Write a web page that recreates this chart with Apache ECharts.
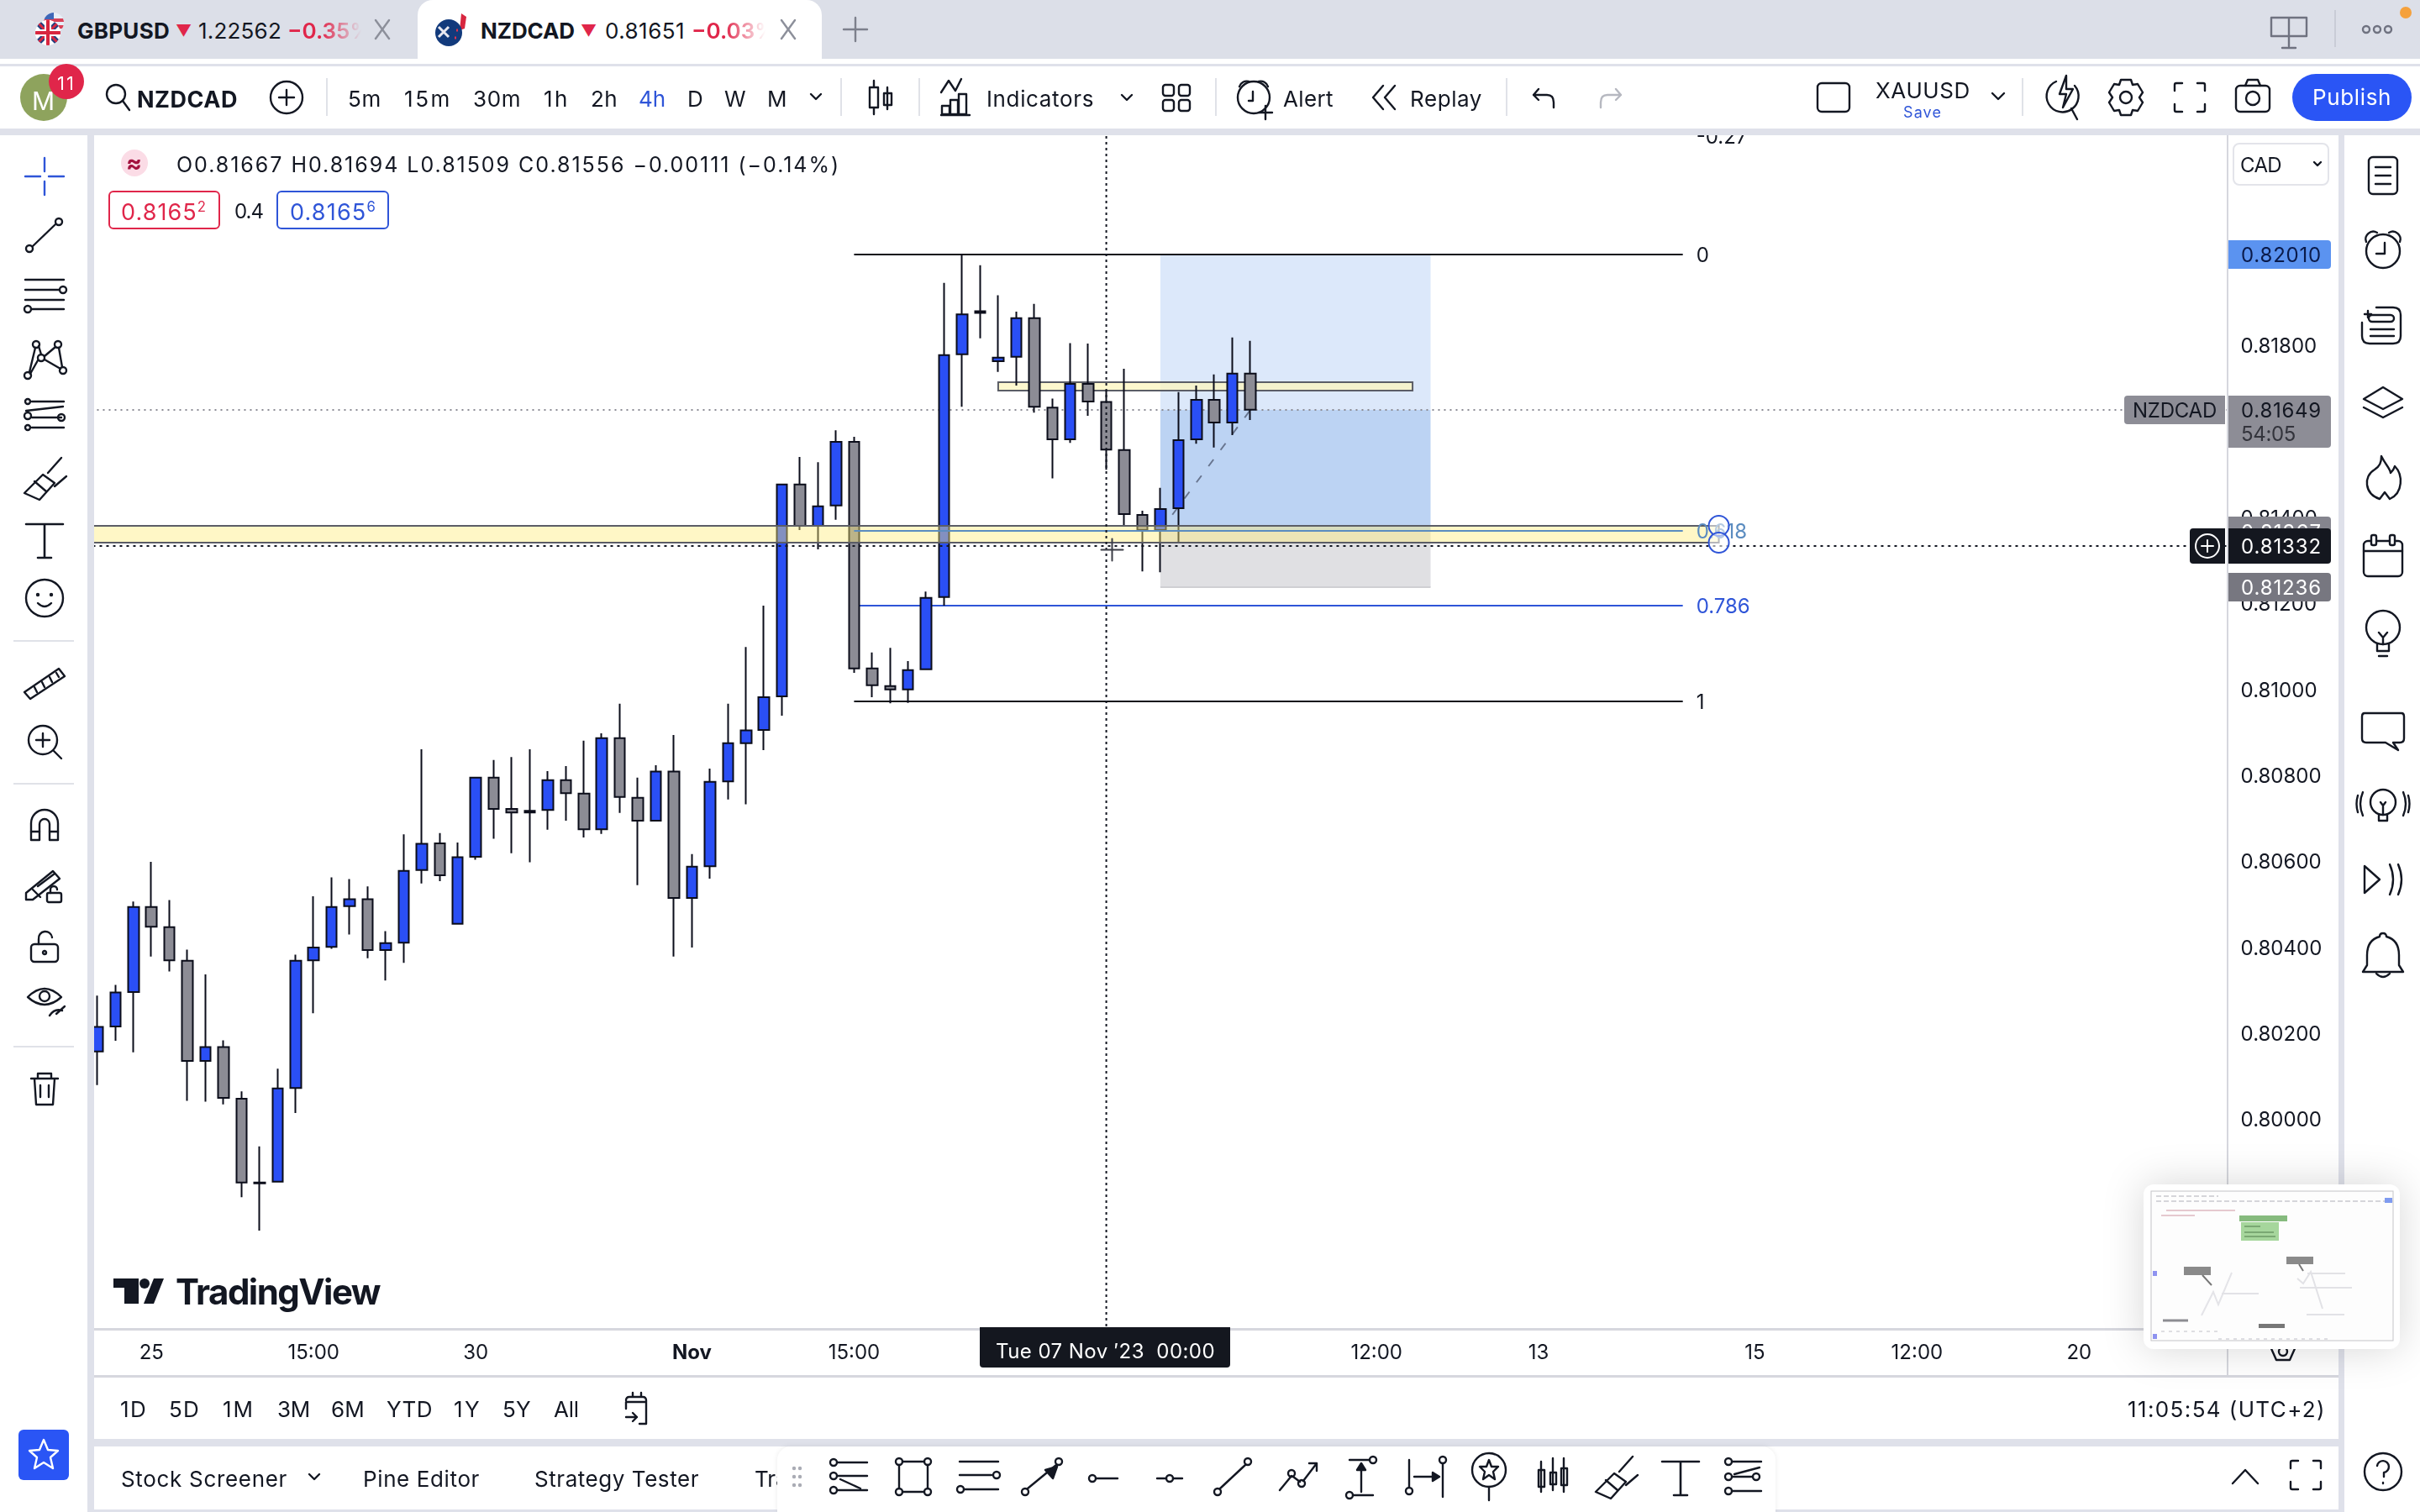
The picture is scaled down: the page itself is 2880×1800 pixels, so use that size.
<!DOCTYPE html>
<html>
<head>
<meta charset="utf-8">
<title>NZDCAD</title>
<script src="https://cdn.jsdelivr.net/npm/echarts@6/dist/echarts.min.js"></script>
<style>
  html, body { margin: 0; padding: 0; background: #fff; overflow: hidden; }
  #stage { position: relative; width: 2880px; height: 1800px; font-family: Inter, "Noto Sans", sans-serif; color: #131722; }
  #chart { position: absolute; left: 0; top: 0; width: 2880px; height: 1800px; }
  #ui { position: absolute; left: 0; top: 0; width: 2880px; height: 1800px; z-index: 2; }
  #ui div.box, #ui span { position: absolute; }
  #ui span { white-space: nowrap; line-height: 1; transform: translateY(-50%); }
  #ui sup { font-size: 62%; line-height: 0; vertical-align: 0.55em; }
  #icons { position: absolute; left: 0; top: 0; z-index: 3; }
</style>
</head>
<body>
<div id="stage">
  <div id="chart"></div>
  <div id="ui"></div>
  <svg id="icons" width="2880" height="1800" viewBox="0 0 2880 1800"></svg>
</div>
<script>
// 4h bars
var opens = [
  0.80156, 0.80214, 0.80294, 0.80492, 0.80445, 0.80367, 0.80134, 0.80166, 0.80046, 0.79851,
  0.79853, 0.80071, 0.80368, 0.80399, 0.80494, 0.80510, 0.80392, 0.80409, 0.80578, 0.80640,
  0.80453, 0.80609, 0.80793, 0.80720, 0.80716, 0.80718, 0.80787, 0.80756, 0.80673, 0.80885,
  0.80746, 0.80693, 0.80807, 0.80513, 0.80587, 0.80784, 0.80873, 0.80904, 0.80982, 0.81475,
  0.81379, 0.81426, 0.81574, 0.81047, 0.81006, 0.80998, 0.81045, 0.81213, 0.81778, 0.81878,
  0.81762, 0.81772, 0.81862, 0.81654, 0.81580, 0.81709, 0.81667, 0.81555, 0.81404, 0.81369,
  0.81420, 0.81580, 0.81672, 0.81619, 0.81733
];
var closes = [
  0.80213, 0.80293, 0.80492, 0.80446, 0.80368, 0.80134, 0.80166, 0.80048, 0.79851, 0.79849,
  0.80070, 0.80367, 0.80398, 0.80492, 0.80510, 0.80392, 0.80408, 0.80576, 0.80639, 0.80566,
  0.80608, 0.80793, 0.80720, 0.80712, 0.80712, 0.80787, 0.80757, 0.80673, 0.80885, 0.80748,
  0.80693, 0.80807, 0.80513, 0.80586, 0.80783, 0.80873, 0.80903, 0.80980, 0.81475, 0.81379,
  0.81424, 0.81574, 0.81047, 0.81008, 0.80998, 0.81043, 0.81211, 0.81776, 0.81871, 0.81874,
  0.81770, 0.81862, 0.81656, 0.81580, 0.81709, 0.81668, 0.81556, 0.81406, 0.81369, 0.81418,
  0.81578, 0.81672, 0.81619, 0.81733, 0.81649
];
var lows = [
  0.80078, 0.80181, 0.80154, 0.80377, 0.80342, 0.80041, 0.80039, 0.80033, 0.79817, 0.79739,
  0.79853, 0.80013, 0.80245, 0.80395, 0.80428, 0.80373, 0.80321, 0.80362, 0.80547, 0.80552,
  0.80453, 0.80602, 0.80651, 0.80617, 0.80596, 0.80672, 0.80693, 0.80654, 0.80662, 0.80711,
  0.80543, 0.80693, 0.80377, 0.80398, 0.80558, 0.80742, 0.80731, 0.80857, 0.80937, 0.81369,
  0.81324, 0.81393, 0.81037, 0.80980, 0.80966, 0.80967, 0.81045, 0.81193, 0.81656, 0.81815,
  0.81737, 0.81705, 0.81642, 0.81489, 0.81572, 0.81635, 0.81509, 0.81380, 0.81273, 0.81271,
  0.81338, 0.81570, 0.81561, 0.81590, 0.81625
];
var highs = [
  0.80286, 0.80311, 0.80505, 0.80597, 0.80508, 0.80393, 0.80335, 0.80182, 0.80063, 0.79935,
  0.80116, 0.80381, 0.80517, 0.80561, 0.80557, 0.80540, 0.80436, 0.80661, 0.80859, 0.80664,
  0.80642, 0.80793, 0.80834, 0.80841, 0.80859, 0.80808, 0.80820, 0.80879, 0.80896, 0.80965,
  0.80793, 0.80822, 0.80892, 0.80615, 0.80814, 0.80965, 0.81097, 0.81193, 0.81475, 0.81539,
  0.81527, 0.81601, 0.81586, 0.81084, 0.81095, 0.81064, 0.81226, 0.81944, 0.82010, 0.81985,
  0.81915, 0.81877, 0.81895, 0.81675, 0.81804, 0.81803, 0.81694, 0.81744, 0.81414, 0.81467,
  0.81690, 0.81705, 0.81731, 0.81817, 0.81809
];

// time axis: the chart runs on past the last bar
var barSlots = 119;
var tickSlots = [3, 12, 21, 33, 42, 71, 80, 92, 101, 110];
var tickLabels = ['25', '15:00', '30', 'Nov', '15:00', '12:00', '13', '15', '12:00', '20'];

// drawings on the chart
var fibPrices = [0.82291, 0.82010, 0.81193, 0.80970];
var fibLabels = ['-0.27', '0', '0.786', '1'];
var entryPrice = 0.81367, targetPrice = 0.82010, stopPrice = 0.81236, lastPrice = 0.81649;
var crossPrice = 0.81332, crossSlot = 56;
var bigZone = [0.81379, 0.81340];
var smallZone = [0.81713, 0.81693];

var categories = [];
for (var s = 0; s < barSlots; s++) {
  categories.push('');
}
tickSlots.forEach(function(slot, k) {
  categories[slot] = tickLabels[k];
});

var candleData = opens.map(function(o, i) {
  return [o, closes[i], lows[i], highs[i]];
});

// the category scale stops at its first and last slot, so the edges are stepped off slot 0
function at(api, slot, price) {
  var c = api.coord([0, price]);
  return [c[0] + slot * api.size([1, 0])[0], Math.round(c[1])];
}
function band(api, x0, x1, p0, p1, style) {
  var a = at(api, x0, p0);
  var b = at(api, x1, p1);
  return { type: 'rect', shape: { x: a[0], y: a[1], width: b[0] - a[0], height: b[1] - a[1] }, style: style };
}
function seg(api, x0, p0, x1, p1, style) {
  var a = at(api, x0, p0);
  var b = at(api, x1, p1);
  return { type: 'line', shape: { x1: a[0], y1: a[1], x2: b[0], y2: b[1] }, style: style };
}
function zoneStyle(fill) {
  return { fill: fill, stroke: '#5b5d66', lineWidth: 2 };
}

// below the candles
function renderUnder(params, api) {
  var kids = [
    band(api, 59, 74, targetPrice, lastPrice, { fill: '#dce8fa' }),
    band(api, 59, 74, lastPrice, entryPrice, { fill: '#bcd3f3' }),
    band(api, 59, 74, entryPrice, stopPrice, { fill: '#e0e0e3' }),
    seg(api, 59, stopPrice, 74, stopPrice, { stroke: '#cfcfd3', lineWidth: 2 }),
    seg(api, 59, entryPrice, 64, lastPrice, { stroke: '#68758f', lineWidth: 2, lineDash: [10, 14] }),
    band(api, 50, 73, smallZone[0], smallZone[1], zoneStyle('rgba(253,246,190,0.75)')),
    seg(api, -1, lastPrice, 118.5, lastPrice, { stroke: '#8c8c95', lineWidth: 2, lineDash: [2, 5] })
  ];
  fibPrices.forEach(function(p, k) {
    var col = fibLabels[k] === '0.786' ? '#2f55d8' : '#0b0d1a';
    kids.push(seg(api, 42, p, 88, p, { stroke: col, lineWidth: 2 }));
  });
  return { type: 'group', children: kids };
}

// above the candles
function renderOver(params, api) {
  var kids = [
    band(api, -1, 90, bigZone[0], bigZone[1], zoneStyle('rgba(255,236,120,0.42)')),
    seg(api, 42, entryPrice, 88, entryPrice, { stroke: '#5b8cc0', lineWidth: 2 }),
    seg(api, -1, crossPrice, 118.5, crossPrice, { stroke: '#131722', lineWidth: 2, lineDash: [3, 5] }),
    seg(api, crossSlot, 0.823, crossSlot, 0.795, { stroke: '#131722', lineWidth: 2, lineDash: [3, 4] })
  ];
  fibPrices.forEach(function(p, k) {
    var pt = at(api, 88, p);
    kids.push({
      type: 'text',
      style: {
        text: fibLabels[k], x: pt[0] + 16, y: pt[1] + (k === 0 ? 5 : 2), verticalAlign: 'middle',
        fill: fibLabels[k] === '0.786' ? '#2f55d8' : '#131722', font: '24px Inter'
      }
    });
  });
  var pt618 = at(api, 88, entryPrice);
  kids.push({
    type: 'text',
    style: { text: '0.618', x: pt618[0] + 16, y: pt618[1] + 2, verticalAlign: 'middle', fill: '#5b8cc0', font: '24px Inter' }
  });
  bigZone.forEach(function(p) {
    var c = at(api, 90, p);
    kids.push({
      type: 'circle',
      shape: { cx: c[0], cy: c[1], r: 12 },
      style: { fill: 'rgba(255,255,255,0.55)', stroke: '#2f55d8', lineWidth: 2 }
    });
  });
  return { type: 'group', children: kids };
}

var myChart = echarts.init(document.getElementById('chart'), null, { renderer: 'canvas' });
myChart.setOption({
  animation: false,
  backgroundColor: '#fff',
  grid: { left: 105.2, width: 2551.4, top: 154.6, height: 1432.8, containLabel: false },
  xAxis: {
    type: 'category',
    data: categories,
    boundaryGap: true,
    axisLine: { show: false },
    axisTick: { show: false },
    splitLine: { show: false },
    axisLabel: {
      interval: 0,
      margin: 11,
      color: '#131722',
      fontFamily: 'Inter',
      fontSize: 24,
      formatter: function(v) {
        return v === 'Nov' ? '{b|Nov}' : v;
      },
      rich: { b: { fontFamily: 'Inter', fontSize: 24, fontWeight: 700, color: '#131722' } }
    }
  },
  yAxis: {
    type: 'value',
    position: 'right',
    scale: true,
    min: 0.795,
    max: 0.823,
    interval: 0.001,
    axisLine: { show: false },
    axisTick: { show: false },
    splitLine: { show: false },
    axisLabel: {
      margin: 10,
      color: '#131722',
      fontFamily: 'Inter',
      fontSize: 24,
      formatter: function(v) {
        return Math.round(v * 1000) % 2 === 0 ? '{p|' + v.toFixed(5) + '}' : '';
      },
      rich: { p: { fontFamily: 'Inter', fontSize: 24, color: '#131722', padding: [5, 0, 0, 0] } }
    }
  },
  series: [
    { type: 'custom', z: 1, renderItem: renderUnder, data: [[0, lastPrice]], silent: true },
    {
      type: 'candlestick',
      z: 2,
      barWidth: 13,
      data: candleData,
      itemStyle: {
        color: '#2a4ff5',
        color0: '#8c8c95',
        borderColor: '#0b0d1a',
        borderColor0: '#0b0d1a',
        borderWidth: 2
      }
    },
    { type: 'custom', z: 3, renderItem: renderOver, data: [[0, lastPrice]], silent: true }
  ]
});

// ---- application chrome around the chart ----
var ui = document.getElementById('ui');

function box(x, y, w, h, bg, extra) {
  var d = document.createElement('div');
  d.className = 'box';
  d.style.cssText = 'left:' + x + 'px;top:' + y + 'px;width:' + w + 'px;height:' + h + 'px;background:' + bg + ';' + (extra || '');
  ui.appendChild(d);
  return d;
}

// x0..x1 is the width the text takes in the reference, letter spacing makes it fit
function txt(x0, x1, yc, str, size, color, extra) {
  var t = document.createElement('span');
  t.innerHTML = str;
  t.style.cssText = 'left:' + x0 + 'px;top:' + (yc + 1.5) + 'px;font-size:' + size + 'px;color:' + (color || '#131722') + ';' + (extra || '');
  ui.appendChild(t);
  if (x1) {
    var w = t.getBoundingClientRect().width;
    t.style.letterSpacing = ((x1 - x0 - w) / t.textContent.length).toFixed(3) + 'px';
  }
  return t;
}

var sepCol = '#dfe1ea', lineCol = '#d6d7de', blue = '#2f55d8', red = '#e0264a';

// frames
box(0, 0, 2880, 70, '#dcdfe8');
box(497, 0, 481, 72, '#fff', 'border-radius:18px 18px 0 0;');
box(0, 76, 2880, 3, sepCol);
box(0, 153, 2880, 8, sepCol);
box(0, 161, 104, 1639, '#fff');
box(104, 161, 8, 1639, sepCol);
box(2650, 161, 7, 1420, '#fff');
box(2650, 161, 2, 1476, lineCol);
box(2783, 161, 7, 1639, sepCol);
box(2790, 161, 90, 1639, '#fff');
box(2774, 161, 9, 1476, '#fff');
box(112, 1581, 2671, 3, lineCol);
box(112, 1637, 2671, 3, lineCol);
box(112, 1713, 2671, 9, sepCol);
box(112, 1797, 2671, 3, sepCol);

// tabs
txt(92, 202, 35, 'GBPUSD', 26, '#131722', 'font-weight:700;');
txt(209, 229, 34, '\u25BC', 19, red);
txt(236, 335, 35, '1.22562', 26);
txt(342, null, 35, '\u22120.35%', 26, red, 'font-weight:600;width:88px;overflow:hidden;-webkit-mask-image:linear-gradient(to right,#000 45%,transparent);');
txt(572, 684, 35, 'NZDCAD', 26, '#131722', 'font-weight:700;');
txt(691, 711, 34, '\u25BC', 19, red);
txt(720, 815, 35, '0.81651', 26);
txt(823, null, 35, '\u22120.03%', 26, red, 'font-weight:600;width:88px;overflow:hidden;-webkit-mask-image:linear-gradient(to right,#000 45%,transparent);');

// top toolbar
txt(163, 283, 116, 'NZDCAD', 27, '#131722', 'font-weight:700;');
[['5m', 414, 454], ['15m', 481, 538], ['30m', 563, 620], ['1h', 647, 678], ['2h', 703, 735], ['4h', 760, 792],
  ['D', 818, 836], ['W', 862, 888], ['M', 913, 936]].forEach(function(r) {
  txt(r[1], r[2], 116, r[0], 26, r[0] === '4h' ? blue : '#131722');
});
txt(1174, 1302, 116, 'Indicators', 26);
txt(1527, 1587, 116, 'Alert', 26);
txt(1678, 1764, 116, 'Replay', 26);
txt(2232, 2345, 106, 'XAUUSD', 26);
txt(2265, 2311, 132, 'Save', 18, blue);
box(2728, 88, 142, 56, '#2a55f5', 'border-radius:28px;');
txt(2752, 2846, 114, 'Publish', 26, '#fff');

// avatar
box(24, 88, 56, 56, '#8ea35d', 'border-radius:50%;');
txt(38, 62, 118, 'M', 30, '#fff');
box(58, 76, 42, 42, red, 'border-radius:50%;');
txt(68, 90, 97, '11', 22, '#fff');

// legend line
box(144, 178, 32, 32, '#fbdce6', 'border-radius:50%;');
txt(150, 170, 192, '\u2248', 28, '#a3123f', 'font-weight:700;');
txt(210, 1000, 194, 'O0.81667 H0.81694 L0.81509 C0.81556 \u22120.00111 (\u22120.14%)', 25);
box(129, 227, 133, 46, '#fff', 'border:2px solid ' + red + ';border-radius:6px;box-sizing:border-box;');
txt(144, 246, 250, '0.8165<sup>2</sup>', 27, red);
txt(279, 313, 250, '0.4', 24);
box(329, 227, 134, 46, '#fff', 'border:2px solid ' + blue + ';border-radius:6px;box-sizing:border-box;');
txt(345, 448, 250, '0.8165<sup>6</sup>', 27, blue);

// price scale tags
box(2657, 170, 115, 51, '#fff', 'border:2px solid #e3e4ea;border-radius:8px;box-sizing:border-box;');
txt(2666, 2715, 195, 'CAD', 24);
box(2652, 286, 122, 34, '#5b93f0', 'border-radius:0 4px 4px 0;');
txt(2667, 2763, 302, '0.82010', 24, '#0a1a4a');
box(2528, 471, 120, 34, '#8d8d96', 'border-radius:4px 0 0 4px;');
txt(2538, 2638, 487, 'NZDCAD', 24);
box(2652, 471, 122, 62, '#8d8d96', 'border-radius:0 4px 4px 0;');
txt(2667, 2763, 487, '0.81649', 24);
txt(2667, 2732, 515, '54:05', 24, '#33343c');
box(2652, 615, 122, 30, '#85858e', 'border-radius:0 4px 4px 0;');
txt(2667, 2763, 632, '0.81367', 24, '#fff');
box(2606, 629, 42, 42, '#14171f', 'border-radius:4px 0 0 4px;');
box(2652, 629, 122, 42, '#14171f', 'border-radius:0 4px 4px 0;');
txt(2667, 2763, 649, '0.81332', 24, '#fff');
box(2652, 682, 122, 34, '#777780', 'border-radius:0 4px 4px 0;');
txt(2667, 2763, 698, '0.81236', 24, '#fff');

// crosshair date
box(1166, 1580, 298, 48, '#14171f', 'border-radius:0 0 4px 4px;');
txt(1185, 1446, 1607, 'Tue 07 Nov \u203223&nbsp;&nbsp;00:00', 24, '#fff');

// watermark
txt(209, 452, 1536, 'TradingView', 42, '#131722', 'font-weight:700;');

// range bar
[['1D', 143, 175], ['5D', 201, 238], ['1M', 265, 303], ['3M', 330, 369], ['6M', 394, 434], ['YTD', 460, 515],
  ['1Y', 540, 573], ['5Y', 598, 632], ['All', 659, 689]].forEach(function(r) {
  txt(r[1], r[2], 1676, r[0], 26);
});
txt(2532, 2768, 1676, '11:05:54 (UTC+2)', 26);

// bottom panel, the last tab runs under the floating drawing bar
txt(144, 342, 1759, 'Stock Screener', 26);
txt(432, 571, 1759, 'Pine Editor', 26);
txt(636, 832, 1759, 'Strategy Tester', 26);
txt(898, null, 1759, 'Trading Panel', 26);
box(925, 1722, 1188, 78, '#fff', 'border-radius:16px 16px 0 0;box-shadow:0 0 6px rgba(0,0,0,.08);');

// favourites button
box(22, 1702, 60, 60, '#2a55f5', 'border-radius:6px;');

// ---- line icons ----
function ic(cx, cy, inner, col, sw) {
  return '<g transform="translate(' + cx + ',' + cy + ')" fill="none" stroke="' + (col || '#131722') + '" stroke-width="' + (sw || 2.4) + '" stroke-linecap="round" stroke-linejoin="round">' + inner + '</g>';
}
function ln(a, b, c, d) { return '<line x1="' + a + '" y1="' + b + '" x2="' + c + '" y2="' + d + '"/>'; }
function ci(a, b, r) { return '<circle cx="' + a + '" cy="' + b + '" r="' + r + '"/>'; }
function pth(d) { return '<path d="' + d + '"/>'; }

var alarm = ci(0, 2, 20) + pth('M-20 -9a9 9 0 0 1 13 -11M20 -9a9 9 0 0 0 -13 -11') + pth('M2 -8V5H-8');
var gear = ci(0, 0, 7) + pth('M-6 -21h12l2 6 6 -1 6 10 -4 6 4 6 -6 10 -6 -1 -2 6h-12l-2 -6 -6 1 -6 -10 4 -6 -4 -6 6 -10 6 1z');
var frame = pth('M-9 -17h-7q-2 0 -2 2v7M9 -17h7q2 0 2 2v7M-9 17h-7q-2 0 -2 -2v-7M9 17h7q2 0 2 -2v-7');
var hexa = pth('M-16 -12l16 -10 16 10v0l-8 18h-16z') + ci(0, -4, 5);
var brush = pth('M-24 18l22 -22 14 10 -18 20zM-12 4l14 12M4 -6l16 -18M12 10l14 -12');
var tee = pth('M-22 -18H22M0 -18V22M-8 22H8');
var screenIc = pth('M-21 -14H21V8H-21zM0 -14V8M0 8V20M-8 22H8');
var s = '';

// tabs and flags
s += '<clipPath id="us"><circle cx="64" cy="27" r="12"/></clipPath><clipPath id="gb"><circle cx="57" cy="39" r="15"/></clipPath>';
s += '<g clip-path="url(#us)"><rect x="50" y="14" width="28" height="28" fill="#e8eef7"/><path d="M50 22h28v4h-28zM50 30h28v4h-28z" fill="#d94157"/><rect x="52" y="14" width="12" height="9" fill="#3f67b8"/></g>';
s += '<g clip-path="url(#gb)"><rect x="40" y="22" width="34" height="34" fill="#fff"/>';
s += '<path d="M42 24L72 54M72 24L42 54" stroke="#24407f" stroke-width="7"/><path d="M42 24L72 54M72 24L42 54" stroke="#d8263f" stroke-width="3"/>';
s += '<path d="M57 22V56M40 39H74" stroke="#fff" stroke-width="8"/><path d="M57 22V56M40 39H74" stroke="#d8263f" stroke-width="4"/></g>';
s += '<circle cx="545" cy="27" r="11" fill="#fff"/><path d="M549 16l6 4-2 14-6 2z" fill="#d8263f"/>';
s += '<circle cx="534" cy="39" r="16" fill="#123a7c"/><path d="M522 32l12 12M534 32l-12 12" stroke="#e8e8f0" stroke-width="3"/>';
s += '<path d="M543 36h2M541 45h2" stroke="#e3324d" stroke-width="3"/>';
s += ic(455, 35, ln(-8, -11, 8, 11) + ln(8, -11, -8, 11), '#8c8f9a');
s += ic(938, 35, ln(-8, -11, 8, 11) + ln(8, -11, -8, 11), '#8c8f9a');
s += ic(1018, 35, ln(-14, 0, 14, 0) + ln(0, -14, 0, 14), '#7d808c');
s += ic(2724, 35, screenIc, '#6f7280');
s += '<line x1="2779" y1="12" x2="2779" y2="56" stroke="#c9ccd6" stroke-width="2"/>';
s += ic(2829, 35, ci(-13, 0, 4) + ci(0, 0, 4) + ci(13, 0, 4), '#6f7280');
s += '<circle cx="2863" cy="15" r="7" fill="#f5a13c"/>';

// top toolbar icons
[389, 1001, 1094, 1447, 1793, 2407].forEach(function(x) {
  s += '<line x1="' + x + '" y1="93" x2="' + x + '" y2="138" stroke="#e0e2e8" stroke-width="2"/>';
});
s += ic(140, 114, ci(-2, -2, 11) + ln(6, 6, 14, 17));
s += ic(341, 116, ci(0, 0, 19) + ln(-9, 0, 9, 0) + ln(0, -9, 0, 9));
s += ic(971, 115, pth('M-6 -3L0 3L6 -3'));
s += ic(1048, 116, ln(-8, -20, -8, 20) + ln(8, -12, 8, 14) + '<rect x="-13" y="-12" width="10" height="24" fill="#fff"/><rect x="4" y="-5" width="9" height="14"/>');
s += ic(1140, 116, pth('M-20 -6L-11 -20L-3 -8L4 -22') + '<rect x="-19" y="10" width="9" height="10"/><rect x="-9" y="3" width="9" height="17"/><rect x="1" y="-4" width="9" height="24"/><line x1="-20" y1="21" x2="14" y2="21"/>');
s += ic(1341, 116, pth('M-6 -3L0 3L6 -3'));
s += ic(1400, 116, '<rect x="-16" y="-15" width="13" height="13" rx="3"/><rect x="3" y="-15" width="13" height="13" rx="3"/><rect x="-16" y="3" width="13" height="13" rx="3"/><rect x="3" y="3" width="13" height="13" rx="3"/>');
s += ic(1492, 116, ci(0, 0, 19) + pth('M-17 -13a9 9 0 0 1 11 -6M17 -13a9 9 0 0 0 -11 -6') + pth('M-1 -7V4H-6') + ln(6, 18, 22, 18) + ln(14, 10, 14, 26));
s += ic(1647, 116, pth('M-1 -14L-13 0L-1 14M13 -14L1 0L13 14'));
s += ic(1839, 116, pth('M-8 -10L-14 -3L-8 3M-14 -3H2Q10 -3 10 6V12'));
s += ic(1915, 116, pth('M8 -10L14 -3L8 3M14 -3H-2Q-10 -3 -10 6V12'), '#b6b8c0');
s += ic(2182, 116, '<rect x="-19" y="-17" width="38" height="34" rx="5"/>');
s += ic(2378, 115, pth('M-7 -4L0 3L7 -4'));
s += ic(2454, 114, pth('M-7 -17a19 19 0 1 0 22 5') + pth('M5 -24L-3 -2H5L1 14L13 -8H5z') + ln(11, 15, 18, 28));
s += ic(2530, 116, gear);
s += ic(2606, 116, frame);
s += ic(2681, 116, '<rect x="-20" y="-14" width="40" height="31" rx="5"/>' + ci(0, 1, 8) + pth('M-9 -14L-6 -21H6L9 -14'));

// left tools
s += ic(53, 210, ln(-23, 0, -5, 0) + ln(5, 0, 23, 0) + ln(0, -22, 0, -6) + ln(0, 6, 0, 22), blue);
s += ic(53, 281, ci(-18, 15, 4) + ci(17, -17, 4) + ln(-14, 12, 13, -14));
s += ic(53, 351, ln(-23, -18, 23, -18) + ln(-23, -6, 17, -6) + ci(22, -6, 4) + ln(-23, 6, 23, 6) + ln(-15, 17, 23, 17) + ci(-20, 17, 4));
s += ic(53, 428, ci(-10, -18, 4) + ci(16, -18, 4) + ci(-4, -2, 4) + ci(-20, 19, 4) + ci(22, 13, 4) + pth('M-18 15L-11 -14M-7 -16L-4 -6M0 -4L13 -15M0 0L19 11M17 -14L21 9M-17 17L-8 1'));
s += ic(53, 497, ln(-15, -19, 23, -19) + ci(-20, -19, 3) + ln(-22, -8, 22, -13) + ci(-20, -2, 4) + ln(-15, 0, 20, 0) + ci(20, 0, 4) + ln(-15, 12, 23, 12) + ci(-20, 12, 3));
s += ic(53, 569, brush);
s += ic(53, 642, tee, '#131722', 2.6);
s += ic(53, 712, ci(0, 0, 22) + ci(-8, -4, 1) + ci(8, -4, 1) + pth('M-8 6Q0 14 8 6'));
s += ic(53, 810, pth('M-24 14L17 -14L24 -5L-17 22z') + pth('M-12 8l3 6M-3 2l3 6M6 -4l3 6M14 -9l3 5'));
s += ic(53, 883, ci(-2, -2, 17) + ln(-10, -2, 6, -2) + ln(-2, -10, -2, 6) + ln(11, 11, 20, 20));
s += ic(53, 982, pth('M-16 18V-2A16 16 0 0 1 16 -2V18H6V-1A6 6 0 0 0 -6 -1V18z') + ln(-16, 8, -6, 8) + ln(6, 8, 16, 8));
s += ic(53, 1051, pth('M-22 12L10 -14L18 -5L-14 20H-22z') + ln(-14, 8, -5, 17) + ln(-8, 4, 12, -11) + '<rect x="3" y="12" width="17" height="11" rx="2"/>' + pth('M7 12V8A4 4 0 0 1 15 8'));
s += ic(53, 1128, '<rect x="-16" y="-4" width="32" height="21" rx="4"/>' + pth('M-7 -4V-10A7 7 0 0 1 9 -12') + ci(0, 6, 2));
s += ic(53, 1189, pth('M-20 -2Q0 -22 20 -2Q0 16 -20 -2z') + ci(0, -3, 6) + pth('M6 20Q12 11 21 14M14 18L24 9'));
s += ic(53, 1296, pth('M-16 -12H16M-12 -12L-10 19H10L12 -12M-8 -12V-18H8V-12M-5 -4V10M5 -4V10'));
[763, 933, 1246].forEach(function(y) {
  s += '<line x1="16" y1="' + y + '" x2="88" y2="' + y + '" stroke="#e0e2e8" stroke-width="2"/>';
});
s += ic(52, 1732, pth('M0 -18L5 -6L17 -5L8 3L11 16L0 9L-11 16L-8 3L-17 -5L-5 -6z'), '#fff');

// right tools
s += ic(2836, 209, '<rect x="-17" y="-22" width="34" height="44" rx="5"/>' + ln(-9, -10, 9, -10) + ln(-9, 0, 9, 0) + ln(-9, 10, 9, 10));
s += ic(2836, 297, alarm);
s += ic(2834, 388, pth('M-20 -14H-12M-16 -18V-10') + pth('M-6 -22H14Q23 -22 23 -13V12Q23 21 14 21H-14Q-23 21 -23 12V-4') + '<rect x="-15" y="-13" width="30" height="8" rx="4"/>' + ln(-13, 4, 15, 4) + ln(-13, 12, 15, 12));
s += ic(2836, 479, pth('M0 -18L23 -4L0 8L-23 -4z') + pth('M-23 6L0 18L23 6'));
s += ic(2836, 569, pth('M-2 -26C4 -14 8 -12 9 -6Q13 -10 14 -14C24 -4 24 18 8 25L2 17L-4 25C-22 19 -24 -2 -10 -10C-4 -14 -2 -18 -2 -26z'));
s += ic(2836, 661, '<rect x="-23" y="-17" width="46" height="42" rx="5"/>' + ln(-23, -5, 23, -5) + '<rect x="-14" y="-24" width="6" height="12" rx="2" fill="#fff"/><rect x="8" y="-24" width="6" height="12" rx="2" fill="#fff"/>');
s += ic(2836, 751, ci(0, -4, 20) + pth('M-7 16V24H7V16M-5 30H5M-5 2L0 8L5 2M0 8V16'));
s += ic(2836, 869, pth('M-22 -20H22Q25 -20 25 -16V10Q25 15 20 15H12L18 24L3 15H-20Q-25 15 -25 10V-16Q-25 -20 -22 -20z'));
s += ic(2836, 957, ci(0, -2, 15) + pth('M-5 13V20H5V13M-3 -2L0 2L3 -2M0 2V13M-24 -14Q-30 0 -24 14M-30 -10Q-33 0 -30 10M24 -14Q30 0 24 14M30 -10Q33 0 30 10'));
s += ic(2836, 1047, pth('M-22 -16L-4 0L-22 16z') + pth('M8 -18Q16 0 8 18M18 -18Q26 0 18 18'));
s += ic(2836, 1137, pth('M-4 -22Q-4 -26 0 -26Q4 -26 4 -22Q19 -18 19 0V12L24 20H-24L-19 12V0Q-19 -18 -4 -22z') + pth('M-8 22Q0 30 8 22'));

// watermark logo
s += '<path d="M135 1522H165V1552H148V1533H135z" fill="#131722"/><circle cx="172" cy="1528" r="6" fill="#131722"/><path d="M183 1522H195L183 1552H171z" fill="#131722"/>';

// bottom controls
s += ic(757, 1676, pth('M-4 -18V-13M6 -18V-13M-12 -7H12M-12 -9Q-12 -13 -8 -13H8Q12 -13 12 -9V19H4M-12 -7V1') + pth('M-12 11H1M-4 6L1 11L-4 16'));
s += ic(374, 1758, pth('M-6 -3L0 3L6 -3'));
s += ic(2672, 1758, pth('M-15 8L0 -8L15 8'));
s += ic(2744, 1756, frame);
s += ic(2836, 1752, ci(0, 0, 22) + pth('M-7 -7A7 7 0 1 1 1 1V6M0 13V14'));

// drawing toolbar
s += ic(948, 1758, ci(-3, -10, 1) + ci(4, -10, 1) + ci(-3, 0, 1) + ci(4, 0, 1) + ci(-3, 10, 1) + ci(4, 10, 1), '#a9abb4');
var dt = [1010, 1087, 1164, 1240, 1315, 1392, 1467, 1545, 1620, 1697, 1772, 1848, 1923, 2000, 2074];
s += ic(dt[0], 1758, ci(-18, -17, 4) + ci(-18, -1, 4) + ci(-18, 16, 4) + ln(-13, -17, 22, -17) + ln(-13, -1, 22, -1) + ln(-13, 16, 22, 16) + pth('M-10 3L14 14'));
s += ic(dt[1], 1758, ci(-17, -18, 4) + ci(17, -18, 4) + ci(-17, 18, 4) + ci(17, 18, 4) + ln(-13, -18, 13, -18) + ln(-13, 18, 13, 18) + ln(-17, -14, -17, 14) + ln(17, -14, 17, 14));
s += ic(dt[2], 1758, ln(-22, -18, 24, -18) + ln(-22, -2, 16, -2) + ci(22, -2, 4) + ln(-16, 15, 24, 15) + ci(-21, 15, 4));
s += ic(dt[3], 1758, ci(-20, 18, 4) + ci(20, -18, 4) + ln(-17, 14, 17, -14) + '<path d="M18 -12L4 -8L13 2z" fill="#131722"/>');
s += ic(dt[4], 1760, ci(-15, 0, 4) + ln(-10, 0, 15, 0));
s += ic(dt[5], 1760, ci(0, 0, 4) + ln(-15, 0, -4, 0) + ln(4, 0, 15, 0));
s += ic(dt[6], 1758, ci(-18, 18, 4) + ci(18, -18, 4) + ln(-15, 14, 15, -14));
s += ic(dt[7], 1758, ci(-8, -4, 4) + ci(4, 8, 4) + pth('M-22 16L-8 -1M-6 0L2 6M6 5L22 -16L13 -16M22 -16V-7'));
s += ic(dt[8], 1758, ln(-14, -20, 10, -20) + ci(14, -20, 4) + ln(-10, 22, 14, 22) + ci(-14, 22, 4) + ln(0, -14, 0, 18) + '<path d="M-5 -8L0 -16L5 -8z" fill="#131722"/>');
s += ic(dt[9], 1758, ln(-20, -20, -20, 12) + ci(-20, 17, 4) + ci(20, -20, 4) + ln(20, -15, 20, 24) + ln(-14, 0, 12, 0) + '<path d="M8 -5L16 0L8 5z" fill="#131722"/>');
s += ic(dt[10], 1756, ci(0, -6, 20) + pth('M0 -18L3 -10L11 -10L5 -4L7 5L0 0L-7 5L-5 -4L-11 -10L-3 -10z') + ln(0, 14, 0, 30));
s += ic(dt[11], 1758, ln(-14, -18, -14, 18) + '<rect x="-17" y="-8" width="7" height="20"/>' + ln(0, -22, 0, 16) + '<rect x="-3" y="-5" width="7" height="14"/>' + ln(13, -22, 13, 18) + '<rect x="10" y="-10" width="7" height="20"/>');
s += ic(dt[12], 1758, brush);
s += ic(dt[13], 1758, tee, '#131722', 2.6);
s += ic(dt[14], 1758, ci(-17, -18, 4) + ln(-12, -18, 22, -18) + ci(-17, 0, 4) + ln(-12, 0, 12, 0) + ci(16, 0, 4) + ci(-17, 17, 4) + ln(-12, 17, 22, 17) + pth('M-10 -3L20 -11'));

// mouse cursor
s += ic(1323.5, 654.5, ln(-13, 0, 13, 0) + ln(0, -13, 0, 13), '#3b3d46', 2);
// + button on the crosshair tag
s += ic(2627, 650, ci(0, 0, 14) + ln(-7, 0, 7, 0) + ln(0, -7, 0, 7), '#fff', 2);
// dropdown arrow of the currency box
s += ic(2758, 195, pth('M-4 -2L0 2L4 -2'));

// settings icon sticking out under the preview card
s += '<clipPath id="below"><rect x="2680" y="1606" width="80" height="30"/></clipPath><g clip-path="url(#below)">' + ic(2717, 1613, hexa) + '</g>';

// preview card of another chart, everything in it is faint
s += '<rect x="2551" y="1410" width="305" height="196" rx="12" fill="#fff" style="filter:drop-shadow(0 0 24px rgba(0,0,0,.16))"/>';
s += '<rect x="2560" y="1418" width="288" height="178" fill="#fdfdfd" stroke="#c4c4c8" stroke-width="1"/>';
s += '<path d="M2566 1424H2640M2566 1430H2848" stroke="#d6d6da" stroke-width="2" stroke-dasharray="6 3"/>';
s += '<path d="M2578 1441H2660M2572 1447H2612" stroke="#e6c9cf" stroke-width="2"/>';
s += '<rect x="2838" y="1426" width="9" height="6" fill="#7f9bf0"/>';
s += '<rect x="2665" y="1447" width="57" height="7" fill="#86bb7e"/><rect x="2667" y="1455" width="45" height="22" fill="#a6d69c"/>';
s += '<path d="M2671 1460H2690M2671 1467H2706M2671 1472H2708" stroke="#7aa873" stroke-width="2"/>';
s += '<rect x="2599" y="1508" width="32" height="10" fill="#8a8a8a"/><rect x="2721" y="1496" width="32" height="9" fill="#8a8a8a"/>';
s += '<path d="M2621 1518L2632 1530M2736 1505L2741 1513" stroke="#777" stroke-width="2"/>';
s += '<path d="M2620 1566L2634 1538L2640 1553L2656 1515" fill="none" stroke="#e4e4e8" stroke-width="2"/>';
s += '<path d="M2734 1522L2741 1528L2750 1514L2764 1558M2746 1516H2791M2737 1533H2799" fill="none" stroke="#e2e2e6" stroke-width="2"/>';
s += '<path d="M2644 1540H2688M2745 1565H2790" stroke="#e2e2e6" stroke-width="2"/>';
s += '<path d="M2574 1572H2604" stroke="#8d8d92" stroke-width="3"/>';
s += '<rect x="2688" y="1576" width="31" height="5" fill="#777"/>';
s += '<path d="M2572 1585H2640M2640 1594H2772" stroke="#dedee2" stroke-width="2" stroke-dasharray="4 5"/>';
s += '<rect x="2562" y="1513" width="5" height="6" fill="#8f93f0"/><rect x="2562" y="1588" width="5" height="6" fill="#8f93f0"/>';

document.getElementById('icons').innerHTML = s;

window.addEventListener('resize', function() {
  myChart.resize();
});
</script>
</body>
</html>
